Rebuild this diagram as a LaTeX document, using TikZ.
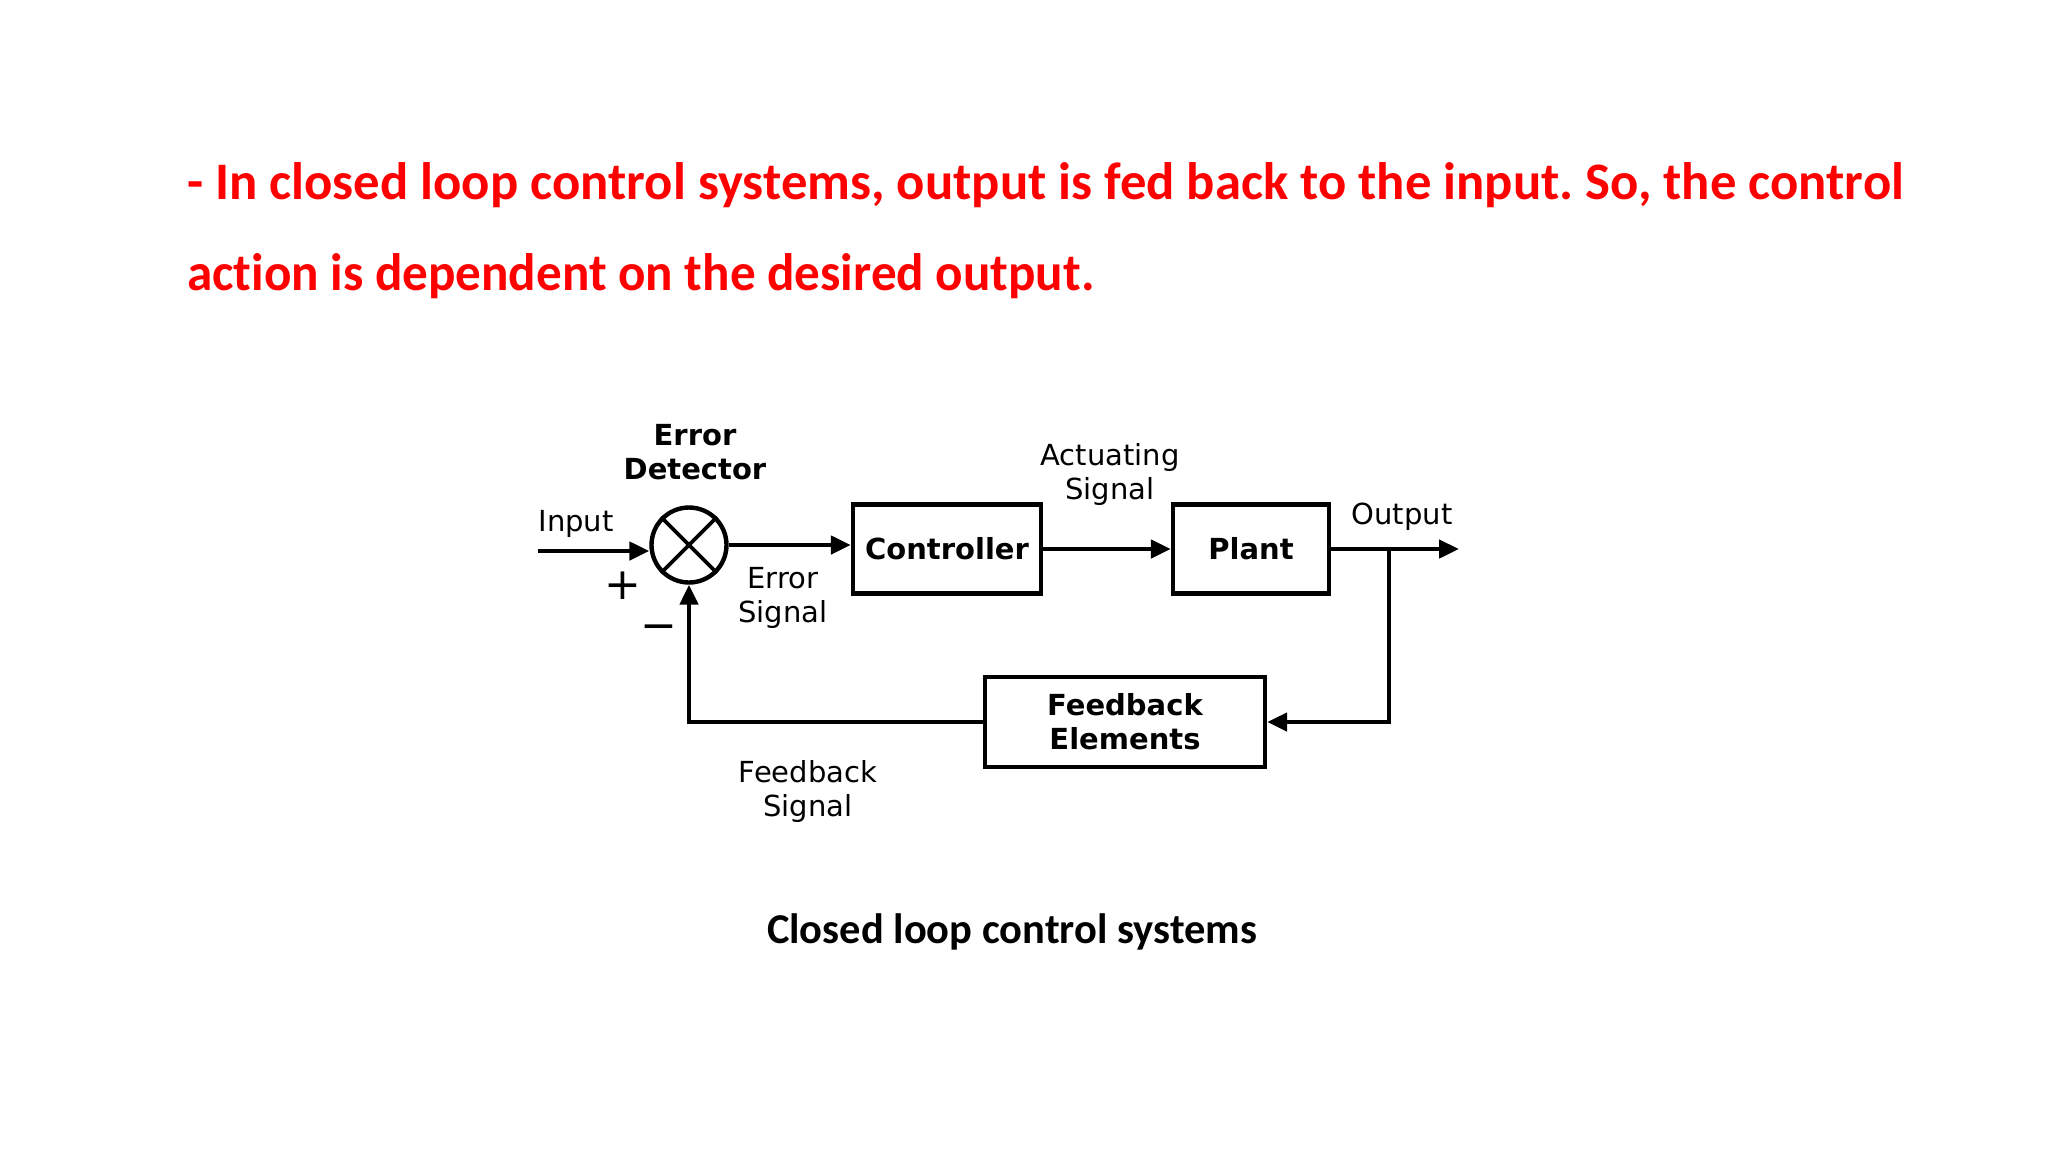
\documentclass[tikz,border=0pt]{standalone}
\usepackage{fontspec}
\setmainfont{Carlito}[Ligatures=NoCommon]
\newfontfamily\dv{DejaVu Sans}
\usetikzlibrary{arrows.meta}
\frenchspacing
\begin{document}
\begin{tikzpicture}[x=1pt,y=-1pt,
  blk/.style={draw, line width=4.4pt, inner sep=0pt, font=\dv\bfseries\fontsize{29}{34}\selectfont, align=center},
  lbl/.style={font=\dv\fontsize{29}{34}\selectfont, align=center, inner sep=0pt},
  arr/.style={line width=4.6pt, -{Triangle[length=20pt,width=18pt]}},
  head/.style={font=\bfseries\fontsize{52.7}{60}\selectfont, text=red, anchor=base west, inner sep=0pt},
  captext/.style={font=\bfseries\fontsize{42.5}{48}\selectfont, anchor=base, inner sep=0pt}]
\useasboundingbox[fill=white] (0,0) rectangle (2048,1152);

% header text
\node[head] (h1) at (187,199) {- In closed loop control systems, output is fed back to the input. So, the control};
\node[head] (h2) at (187,290) {\scalebox{0.97}[1]{action is dependent on the desired output.}};

% blocks
\node[draw, circle, line width=4.4pt, minimum size=75pt, inner sep=0pt] (sum) at (689,545) {};
\draw[line width=3.8pt] (sum.north west) -- (sum.south east) (sum.north east) -- (sum.south west);
\node[blk, minimum width=188pt, minimum height=89pt] (ctrl) at (947,549) {Controller};
\node[blk, minimum width=156pt, minimum height=89pt] (plant) at (1251,549) {Plant};
\node[blk, minimum width=280pt, minimum height=90pt] (fb) at (1125,722) {Feedback\\Elements};

% connectors
\coordinate (in) at (538,551);
\coordinate (out) at (1459,549);
\coordinate (br) at (1389,549);
\draw[arr] (in) -- (in -| sum.west);
\draw[arr] (sum.east) -- (sum.east -| ctrl.west);
\draw[arr] (ctrl.east) -- (plant.west);
\draw[arr] (plant.east) -- (out);
\draw[arr] (br) |- (fb.east);
\draw[arr] (fb.west) -| (sum.south);

% labels
\node[lbl, font=\dv\bfseries\fontsize{29}{34}\selectfont] (ed) at (695,452) {Error\\Detector};
\node[lbl, anchor=base] (inl) at (576,531) {Input};
\node[lbl, font=\dv\fontsize{44}{44}\selectfont] (plus) at (623,586) {+};
\node[lbl, font=\dv\fontsize{44}{44}\selectfont] (minus) at (659,633) {−};
\node[lbl] (es) at (783,598) {Error\\Signal};
\node[lbl] (as) at (1110,474) {Actuating\\Signal};
\node[lbl, anchor=base] (outl) at (1402,524) {Output};
\node[lbl] (fs) at (808,791) {Feedback\\Signal};

% caption
\node[captext] (caption) at (1012,943) {Closed loop control systems};
\end{tikzpicture}
\end{document}
